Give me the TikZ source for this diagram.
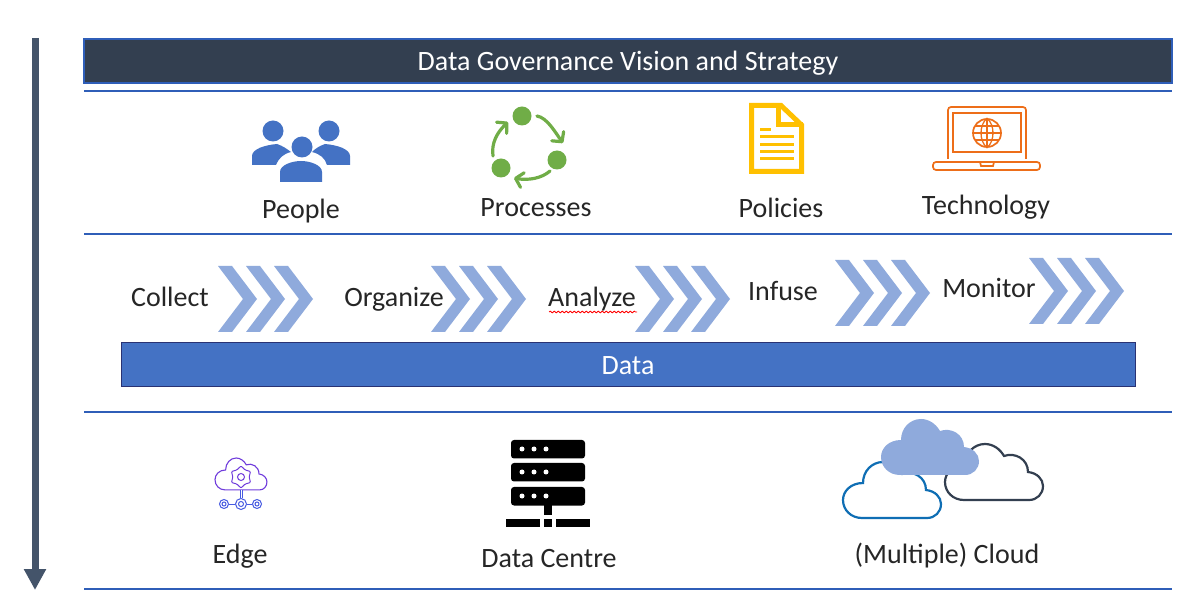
\documentclass[tikz,border=0pt]{standalone}
\usepackage{fontspec}
\setmainfont{Carlito}
\usetikzlibrary{arrows.meta,bending,positioning,shapes.geometric,decorations.pathmorphing}
\definecolor{titlecolor}{RGB}{51, 63, 80}
\definecolor{rulecolor}{RGB}{47, 94, 184}
\definecolor{flowcolor}{RGB}{68, 84, 106}
\definecolor{barcolor}{RGB}{68, 114, 196}
\definecolor{chevroncolor}{RGB}{143, 170, 220}
\definecolor{textcolor}{RGB}{38, 38, 38}
\definecolor{greencolor}{RGB}{112, 173, 71}
\definecolor{ambercolor}{RGB}{255, 192, 0}
\definecolor{orangecolor}{RGB}{237, 110, 25}
\definecolor{edgecolor}{RGB}{112, 60, 220}
\definecolor{edgeblue}{RGB}{70, 90, 225}
\definecolor{cloudblue}{RGB}{15, 110, 180}

\tikzset{
  label/.style={font=\fontsize{28}{32}\selectfont, text=textcolor, anchor=base, inner sep=0pt},
  barlabel/.style={font=\fontsize{28}{32}\selectfont, text=white, anchor=base, inner sep=0pt},
  rule/.style={draw=rulecolor, line width=2.2pt},
  cycledot/.style={circle, fill=greencolor, minimum size=19pt, inner sep=0pt},
  cyclearrow/.style={draw=greencolor, line width=3.2pt, line cap=round, -{Straight Barb[length=7pt,width=15pt,round]}},
  person/.style={fill=barcolor},
  head/.style={circle, fill=barcolor, minimum size=21pt, inner sep=0pt},
  rack/.style={fill=black, rounded corners=3pt},
  rackdot/.style={circle, fill=white, minimum size=5pt, inner sep=0pt},
  edgedot/.style={circle, draw=edgeblue, line width=1pt, minimum size=#1, inner sep=0pt},
  chevrons/.pic={
    \foreach \dx in {0,28,56}
      \fill[chevroncolor, shift={(\dx,0)}] (0,0) -- (14,0) -- (39,33) -- (14,66) -- (0,66) -- (25,33) -- cycle;
  },
  cloudshape/.pic={
    \path[pic actions] (19,56) .. controls (8,56) and (0,48) .. (0,38) .. controls (0,29) and (8,21) .. (20,21)
      .. controls (20,9) and (29,0) .. (40,0) .. controls (48,0) and (55,5) .. (59,12)
      .. controls (70,8) and (83,15) .. (83,28) .. controls (92,29) and (98,35) .. (98,42)
      .. controls (98,50) and (92,56) .. (84,56) -- cycle;
  }
}

\begin{document}
\begin{tikzpicture}[x=1pt,y=-1pt]
  \useasboundingbox[fill=white] (0,0) rectangle (1200,609);

  \coordinate (flowtop) at (35,38);
  \coordinate (flowend) at (35,590);
  \draw[line width=7pt, flowcolor, -{Triangle[length=21pt,width=21pt]}] (flowtop) -- (flowend);

  % title and rules
  \node[draw=rulecolor, line width=2.2pt, fill=titlecolor, minimum width=1088pt, minimum height=44pt, inner sep=0pt] (titlebar) at (628,61) {};
  \node[barlabel] (titletext) at (628,71) {Data Governance Vision and Strategy};

  \coordinate (ruleAl) at (84,91);
  \coordinate (ruleAr) at (1172,91);
  \coordinate (ruleBl) at (84,234);
  \coordinate (ruleBr) at (1172,234);
  \coordinate (ruleCl) at (84,412);
  \coordinate (ruleCr) at (1172,412);
  \coordinate (ruleDl) at (84,589);
  \coordinate (ruleDr) at (1172,589);
  \draw[rule] (ruleAl) -- (ruleAr);
  \draw[rule] (ruleBl) -- (ruleBr);
  \draw[rule] (ruleCl) -- (ruleCr);
  \draw[rule] (ruleDl) -- (ruleDr);

  % people
  \fill[person] (252,165) -- (252,156) .. controls (252,149) and (265,145) .. (277,144) .. controls (283,146) and (287,149) .. (291,152)
    .. controls (283,154) and (279,158) .. (276,165) -- cycle;
  \fill[person] (350,165) -- (350,156) .. controls (350,149) and (337,145) .. (325,144) .. controls (319,146) and (315,149) .. (312,152)
    .. controls (320,154) and (325,158) .. (327,165) -- cycle;
  \fill[person] (280,182) -- (280,172) .. controls (280,165) and (292,161) .. (301,161) .. controls (310,161) and (322,165) .. (322,172) -- (322,182) -- cycle;
  \node[head] (headL) at (273,131) {};
  \node[head] (headR) at (329,131) {};
  \node[head] (headM) at (302,147) {};
  \node[label] (people) at (301,219) {People};

  % processes
  \node[cycledot] (dotA) at (522,116) {};
  \node[cycledot] (dotB) at (557,160) {};
  \node[cycledot] (dotC) at (501,168) {};
  \coordinate (arcAs) at (537,116);
  \coordinate (arcAe) at (563,143);
  \coordinate (arcBs) at (550,171);
  \coordinate (arcBe) at (514,178);
  \coordinate (arcCs) at (493,156);
  \coordinate (arcCe) at (508,122);
  \path[cyclearrow] (arcAs) .. controls (548,118) and (556,134) .. (arcAe);
  \path[cyclearrow] (arcBs) .. controls (541,179) and (526,181) .. (arcBe);
  \path[cyclearrow] (arcCs) .. controls (491,142) and (498,131) .. (arcCe);
  \node[label] (processes) at (536,217) {Processes};

  % policies
  \draw[ambercolor, line width=5pt, line join=miter] (751.5,105.5) -- (781,105.5) -- (801.5,125) -- (801.5,171.5) -- (751.5,171.5) -- cycle;
  \draw[ambercolor, line width=5pt] (778,104) -- (778,125) -- (803,125);
  \foreach \ly/\lx in {130/771,137/794,145/794,152/794,159/794}
    \draw[ambercolor, line width=3pt] (760,\ly) -- (\lx,\ly);
  \node[label] (policies) at (781,218) {Policies};

  % technology
  \draw[orangecolor, line width=1.7pt, rounded corners=3pt] (948,159) -- (948,107) -- (1026,107) -- (1026,159);
  \draw[orangecolor, line width=1.7pt] (953,113) rectangle (1021,152);
  \draw[orangecolor, line width=1.7pt, rounded corners=3pt] (933,162) -- (933,170) -- (1040,170) -- (1040,162) -- cycle;
  \draw[orangecolor, line width=1.7pt] (980,162) -- (981,166) -- (993,166) -- (994,162);
  \node[circle, draw=orangecolor, line width=1.7pt, minimum size=28pt, inner sep=0pt] (globe) at (987,133) {};
  \draw[orangecolor, line width=1.3pt] (globe.west) -- (globe.east);
  \draw[orangecolor, line width=1.3pt] (globe.north) -- (globe.south);
  \draw[orangecolor, line width=1.3pt] (globe.north) .. controls (979,125) and (979,141) .. (globe.south);
  \draw[orangecolor, line width=1.3pt] (globe.north) .. controls (995,125) and (995,141) .. (globe.south);
  \draw[orangecolor, line width=1.3pt] (975,126) -- (999,126);
  \draw[orangecolor, line width=1.3pt] (975,140) -- (999,140);
  \node[label] (technology) at (986,215) {Technology};

  % steps
  \pic at (218,266) {chevrons};
  \pic at (431,266) {chevrons};
  \pic at (635,266) {chevrons};
  \pic at (835,260) {chevrons};
  \pic at (1029,258) {chevrons};
  \coordinate (squiggleL) at (549,312);
  \coordinate (squiggleR) at (637,312);
  \draw[red, line width=.8pt, decorate, decoration={snake, amplitude=.9pt, segment length=4pt}] (squiggleL) -- (squiggleR);
  \node[label] (collect) at (170,307) {Collect};
  \node[label] (organize) at (394,307) {Organize};
  \node[label] (analyze) at (592,307) {Analyze};
  \node[label] (infuse) at (783,301) {Infuse};
  \node[label] (monitor) at (989,298) {Monitor};

  \node[draw=titlecolor!80!blue, line width=1pt, fill=barcolor, minimum width=1014pt, minimum height=44pt, inner sep=0pt] (databar) at (628,365) {};
  \node[barlabel] (datatext) at (628,375) {Data};

  % edge
  \pic[draw=edgecolor, line width=1.1pt, xscale=.53, yscale=.57] at (215,458) {cloudshape};
  \node[star, star points=6, star point ratio=1.35, draw=edgecolor, line width=1pt, minimum size=22pt, inner sep=0pt, rounded corners=1pt] (gear) at (241,477) {};
  \node[circle, draw=edgecolor, line width=1pt, minimum size=7pt, inner sep=0pt] (gearhole) at (241,477) {};
  \node[edgedot=9pt] (edgeL) at (224,504) {};
  \node[edgedot=11pt] (edgeM) at (241,504) {};
  \node[edgedot=9pt] (edgeR) at (257,504) {};
  \node[edgedot=4pt] (edgeLi) at (224,504) {};
  \node[edgedot=5pt] (edgeMi) at (241,504) {};
  \node[edgedot=4pt] (edgeRi) at (257,504) {};
  \draw[edgeblue, line width=1pt] (edgeL) -- (edgeM);
  \draw[edgeblue, line width=1pt] (edgeM) -- (edgeR);
  \coordinate (stemtop) at (241,490);
  \draw[edgeblue, line width=3pt] (stemtop) -- (edgeM);
  \draw[white, line width=1pt] (stemtop) -- (edgeM);
  \node[label] (edge) at (240,563) {Edge};

  % data centre
  \foreach \ry in {440,463,487}{
    \fill[rack] (511,\ry) rectangle (585,\ry+18.5);
    \foreach \rx in {522,534,546}
      \node[rackdot] at (\rx,\ry+9) {};
  }
  \fill[black] (544,505) rectangle (552,515);
  \fill[black] (506,519) rectangle (540,527);
  \fill[black] (544,519) rectangle (552,527);
  \fill[black] (556,519) rectangle (590,527);
  \node[label] (datacentre) at (549,567) {Data Centre};

  % clouds
  \pic[draw=cloudblue, line width=2.2pt] at (843,462) {cloudshape};
  \pic[draw=titlecolor, line width=2.2pt] at (945,444) {cloudshape};
  \pic[fill=chevroncolor] at (881,419) {cloudshape};
  \node[label] (cloud) at (947,563) {(Multiple) Cloud};
\end{tikzpicture}
\end{document}
